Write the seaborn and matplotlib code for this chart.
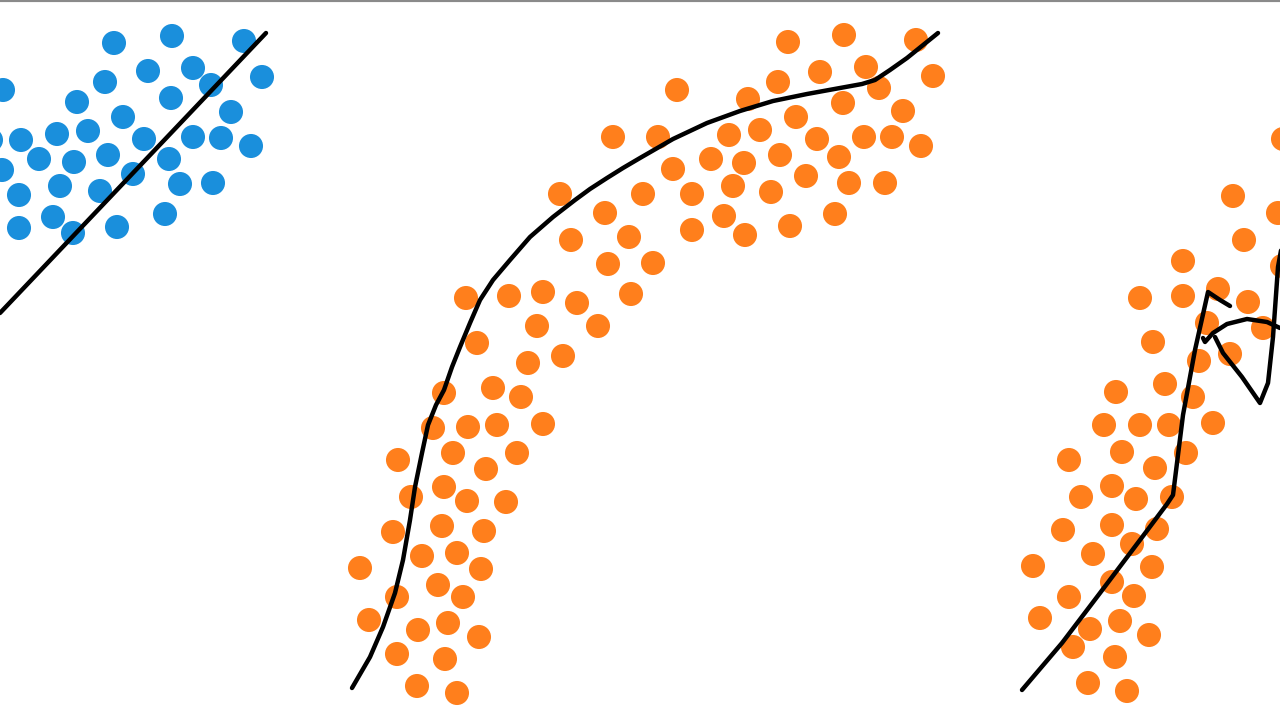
import matplotlib
matplotlib.use("Agg")
import matplotlib.pyplot as plt
import seaborn as sns
import pandas as pd

sns.set_theme(style="white")

# ---- data (pixel coordinates, y downwards) ----
blue_x = [114, 172, 244, 262, 3, 105, 148, 193, 211, 77, 171, 123, 231, 21, 57, 88, 144, 193, 221,
          251, -9, 39, 74, 108, 169, 133, 2, 60, 100, 180, 213, 19, 53, 73, 117, 165, 19]
blue_y = [43, 36, 41, 77, 90, 82, 71, 68, 85, 102, 98, 117, 112, 140, 134, 131, 139, 137, 138,
          146, 140, 159, 162, 155, 159, 174, 170, 186, 191, 184, 183, 195, 217, 233, 227, 214, 228]
blue_line_x = [0, 266]
blue_line_y = [313, 33]

mid_x = [466, 509, 543, 577, 537, 477, 528, 563, 444, 493, 521, 433, 468, 497, 543, 398, 453, 486,
         517, 411, 444, 467, 506, 393, 442, 484, 360, 422, 457, 481, 397, 438, 463, 369, 418, 448,
         479, 397, 445, 417, 457, 598, 631,
         788, 844, 916, 677, 778, 820, 866, 933, 748, 879, 843, 903, 796, 613, 658, 729, 760, 817,
         864, 892, 921, 673, 711, 744, 780, 839, 560, 643, 692, 733, 771, 806, 849, 885, 605, 724,
         835, 571, 629, 692, 745, 790, 608, 653]
mid_y = [298, 296, 292, 303, 326, 343, 363, 356, 393, 388, 397, 428, 427, 425, 424, 460, 453, 469,
         453, 497, 487, 501, 502, 532, 526, 531, 568, 556, 553, 569, 597, 585, 597, 620, 630, 623,
         637, 654, 659, 686, 693, 326, 294,
         42, 35, 40, 90, 82, 72, 67, 76, 99, 88, 103, 111, 117, 137, 137, 135, 130, 139,
         137, 137, 146, 169, 159, 163, 155, 157, 194, 194, 194, 186, 192, 176, 183, 183, 213, 216,
         214, 240, 237, 230, 235, 226, 264, 263]
mid_line_x = [352, 370, 383, 395, 403, 410, 415, 422, 428, 436, 444, 452, 460, 470, 480, 493, 510,
              530, 553, 575, 590, 607, 623, 640, 673, 707, 740, 773, 807, 840, 862, 875, 890, 907,
              938]
mid_line_y = [688, 657, 627, 593, 560, 520, 487, 453, 425, 405, 390, 367, 347, 323, 300, 280, 260,
              237, 217, 200, 189, 178, 168, 158, 139, 123, 111, 101, 94, 88, 84, 80, 70, 58, 33]

right_x = [1283, 1233, 1278, 1244, 1183, 1282, 1140, 1183, 1218, 1248, 1207, 1153, 1199, 1230, 1116,
           1165, 1193, 1104, 1140, 1169, 1213, 1069, 1122, 1155, 1186, 1081, 1112, 1136, 1172, 1063,
           1112, 1157, 1093, 1132, 1033, 1152, 1069, 1112, 1134, 1040, 1090, 1120, 1149, 1073, 1115,
           1088, 1127, 1263]
right_y = [139, 196, 213, 240, 261, 266, 298, 296, 289, 302, 323, 342, 361, 354, 392,
           384, 397, 425, 425, 425, 423, 460, 452, 468, 453, 497, 486, 499, 497, 530,
           525, 529, 554, 544, 566, 567, 597, 582, 596, 618, 629, 621, 635, 647, 657,
           683, 691, 328]
over_a_x = [1022, 1062, 1100, 1140, 1167, 1173, 1183, 1195, 1208, 1220, 1230]
over_a_y = [690, 643, 593, 540, 504, 495, 415, 350, 292, 300, 306]
over_b_x = [1203, 1205, 1213, 1227, 1247, 1267, 1280]
over_b_y = [338, 342, 333, 324, 319, 322, 328]
over_c_x = [1215, 1223, 1242, 1260, 1268, 1273, 1278, 1282]
over_c_y = [337, 353, 377, 403, 383, 337, 267, 245]

BLUE = "#1a8fdc"
ORANGE = "#ff7f1c"

fig = plt.figure(figsize=(12.8, 7.2), dpi=100)
ax = fig.add_axes([0, 0, 1, 1])

pts = pd.concat([
    pd.DataFrame({"x": blue_x, "y": blue_y, "g": "blue"}),
    pd.DataFrame({"x": mid_x, "y": mid_y, "g": "orange"}),
    pd.DataFrame({"x": right_x, "y": right_y, "g": "orange"}),
])
sns.scatterplot(data=pts, x="x", y="y", hue="g", palette={"blue": BLUE, "orange": ORANGE},
                s=300, linewidth=0, legend=False, ax=ax, zorder=2)

for lx, ly in [(blue_line_x, blue_line_y), (mid_line_x, mid_line_y),
               (over_a_x, over_a_y), (over_b_x, over_b_y), (over_c_x, over_c_y)]:
    sns.lineplot(x=lx, y=ly, sort=False, estimator=None, color="black", linewidth=3.2,
                 ax=ax, zorder=3, solid_capstyle="round", solid_joinstyle="round")

ax.set_xlim(0, 1280)
ax.set_ylim(720, 0)
ax.set_xlabel("")
ax.set_ylabel("")
ax.set_xticks([])
ax.set_yticks([])
for side in ["left", "right", "bottom"]:
    ax.spines[side].set_visible(False)
ax.spines["top"].set_color("#8a8a8a")
ax.spines["top"].set_linewidth(3)

fig.savefig("out.png", dpi=100)
